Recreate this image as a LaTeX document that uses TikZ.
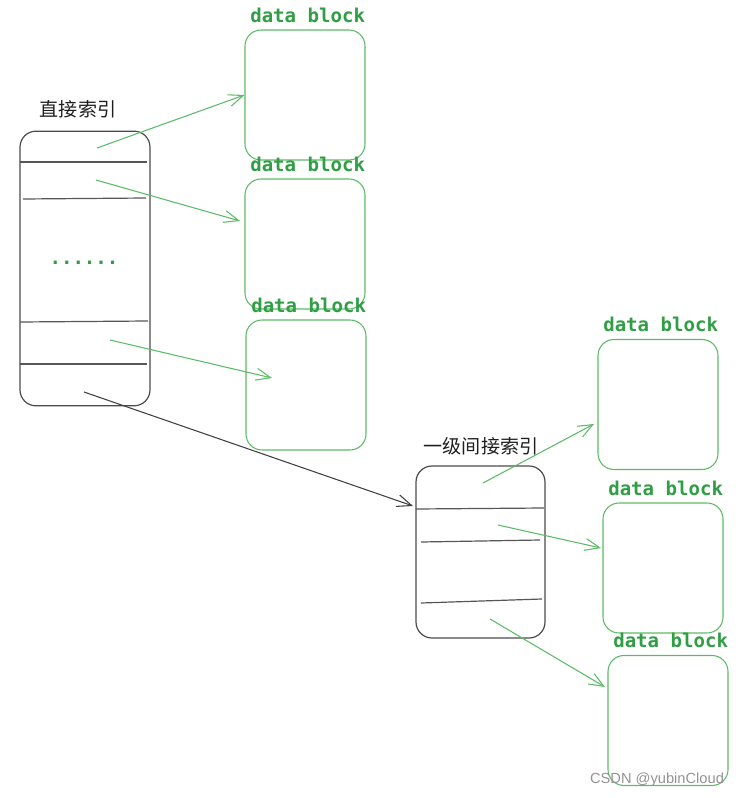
\documentclass[tikz,border=0pt]{standalone}
\usepackage{fontspec}
\setmonofont{DejaVu Sans Mono}
\newfontfamily\cjk{Noto Sans CJK SC}
\newfontfamily\marksans{Liberation Sans}
\usepackage{tikz}
\usetikzlibrary{positioning,arrows.meta}
\definecolor{ink}{HTML}{1E1E1E}
\definecolor{leaf}{HTML}{5DBB67}
\definecolor{leaftext}{HTML}{2F9E44}

\begin{document}
\begin{tikzpicture}[x=0.75pt, y=-0.75pt, every node/.style={inner sep=0pt},
      block/.style={draw=leaf, line width=0.8pt, rounded corners=12pt, minimum width=90pt, minimum height=97.5pt},
      blocktag/.style={text=leaftext, font=\fontsize{14.3}{16}\selectfont\ttfamily\bfseries},
      index/.style={draw=ink!80, line width=0.9pt, rounded corners=12pt, minimum width=97.5pt},
      slot/.style={draw=ink!75, line width=0.9pt},
      tag/.style={text=ink, font=\cjk\fontsize{14.3}{16}\selectfont},
      ptr/.style={draw=leaf, line width=0.8pt, -{Straight Barb[length=11pt, width=9pt]}},
      jump/.style={draw=ink!85, line width=0.8pt, -{Straight Barb[length=11pt, width=9pt]}}]
    \useasboundingbox (0,0) rectangle (741,798);

    % direct index
    \node[tag] (directtag) at (78,109) {直接索引};
    \node[index, minimum height=206pt] (direct) at (85,268.5) {};
    \draw[slot] (20,162) -- (147,162);
    \draw[slot] (23,199) -- (146,198);
    \draw[slot] (20,322) -- (148,321);
    \draw[slot] (20,364) -- (147,364);
    \node[blocktag] (dots) at (84,263) {......};

    % single indirect index
    \node[tag] (singletag) at (481,446) {一级间接索引};
    \node[index, minimum width=96.75pt, minimum height=129pt] (single) at (480.5,552) {};
    \draw[slot] (416,509) -- (544,508);
    \draw[slot] (421,542) -- (540,540);
    \draw[slot] (421,603) -- (542,599);

    % data blocks
    \node[block] (b1) at (305,95) {};
    \node[block] (b2) at (305,244) {};
    \node[block] (b3) at (306,385) {};
    \node[block] (b4) at (658,404.5) {};
    \node[block] (b5) at (663,568) {};
    \node[block] (b6) at (668,720.5) {};
    \foreach \b in {b1,b2,b3,b4,b5,b6}
      \node[blocktag, above=5pt of \b, xshift=2pt] (\b tag) {data block};

    \node[text=gray!85, font=\marksans\fontsize{11}{13}\selectfont] (mark) at (657,780) {CSDN @yubinCloud};

    % pointers
    \coordinate (d1) at (97,148);
    \coordinate (d2) at (96,180);
    \coordinate (d3) at (110,340);
    \coordinate (d4) at (84,392);
    \coordinate (s1) at (483,483);
    \coordinate (s2) at (498,525);
    \coordinate (s3) at (490,619);
    \coordinate (b2in) at (240,221);
    \coordinate (b3in) at (272,378);
    \coordinate (singlein) at (413,506);
    \coordinate (b4in) at (594,424);
    \coordinate (b5in) at (601,548);
    \coordinate (b6in) at (605,687);
    \draw[ptr] (d1) -- (b1.west);
    \draw[ptr] (d2) -- (b2in);
    \draw[ptr] (d3) -- (b3in);
    \draw[jump] (d4) -- (singlein);
    \draw[ptr] (s1) -- (b4in);
    \draw[ptr] (s2) -- (b5in);
    \draw[ptr] (s3) -- (b6in);
  \end{tikzpicture}
\end{document}
